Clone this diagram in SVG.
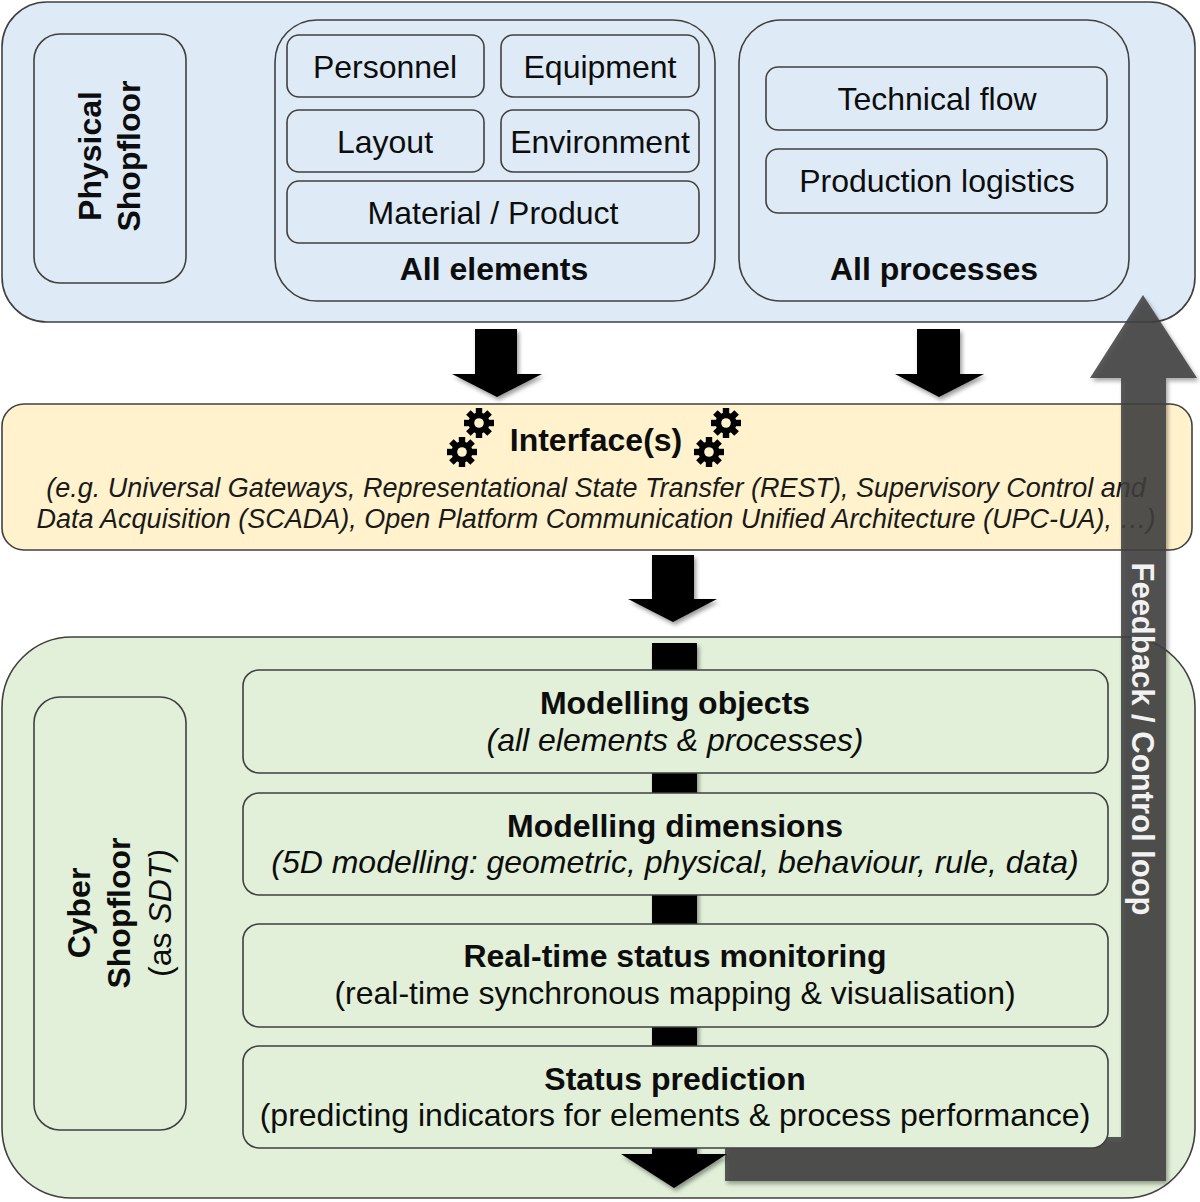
<svg xmlns="http://www.w3.org/2000/svg" xmlns:xlink="http://www.w3.org/1999/xlink" width="1200" height="1202" viewBox="0 0 1200 1202">
<style>
.box{stroke:#404040;stroke-width:1.6}
.blue{fill:#deebf7}
.yel{fill:#fff2cc}
.grn{fill:#e2f0d9}
.t{font-family:"Liberation Sans",Arial,sans-serif;font-size:32px;fill:#0d0d0d;text-anchor:middle}
.b{font-weight:bold}
.i{font-style:italic}
.it{font-family:"Liberation Sans",Arial,sans-serif;font-size:27px;font-style:italic;fill:#1a1a1a;text-anchor:middle}
.fb{font-family:"Liberation Sans",Arial,sans-serif;font-size:31px;font-weight:bold;fill:#f2f2f2;text-anchor:middle}
.blk{fill:#000}
</style>
<defs>
<filter id="sh" x="-20%" y="-20%" width="150%" height="150%">
<feDropShadow dx="2" dy="3" stdDeviation="2" flood-color="#000" flood-opacity="0.4"/>
</filter>
<g id="gear">
<circle r="10.5" fill="#000"/>
<rect x="-3.2" y="-15" width="6.4" height="7" fill="#000"/>
<rect x="-3.2" y="-15" width="6.4" height="7" fill="#000" transform="rotate(45)"/>
<rect x="-3.2" y="-15" width="6.4" height="7" fill="#000" transform="rotate(90)"/>
<rect x="-3.2" y="-15" width="6.4" height="7" fill="#000" transform="rotate(135)"/>
<rect x="-3.2" y="-15" width="6.4" height="7" fill="#000" transform="rotate(180)"/>
<rect x="-3.2" y="-15" width="6.4" height="7" fill="#000" transform="rotate(225)"/>
<rect x="-3.2" y="-15" width="6.4" height="7" fill="#000" transform="rotate(270)"/>
<rect x="-3.2" y="-15" width="6.4" height="7" fill="#000" transform="rotate(315)"/>
<circle r="4.8" fill="#fff2cc"/>
</g>
</defs>

<g id="physical-shopfloor">
<rect class="box blue" x="2" y="2" width="1193" height="320" rx="45"/>
<rect class="box blue" x="34" y="34" width="152" height="249" rx="26"/>
<text class="t b" transform="translate(101,156) rotate(-90)">Physical</text>
<text class="t b" transform="translate(140,156) rotate(-90)">Shopfloor</text>
</g>

<g id="all-elements">
<rect class="box blue" x="275" y="20" width="440" height="281" rx="42"/>
<text class="t b" x="494" y="280">All elements</text>
</g>
<g id="personnel">
<rect class="box blue" x="287" y="35" width="197" height="62" rx="12"/>
<text class="t" x="385" y="78">Personnel</text>
</g>
<g id="equipment">
<rect class="box blue" x="501" y="35" width="198" height="62" rx="12"/>
<text class="t" x="600" y="78">Equipment</text>
</g>
<g id="layout">
<rect class="box blue" x="287" y="110" width="197" height="62" rx="12"/>
<text class="t" x="385" y="153">Layout</text>
</g>
<g id="environment">
<rect class="box blue" x="501" y="110" width="198" height="62" rx="12"/>
<text class="t" x="600" y="153">Environment</text>
</g>
<g id="material-product">
<rect class="box blue" x="287" y="181" width="412" height="62" rx="12"/>
<text class="t" x="493" y="224">Material / Product</text>
</g>

<g id="all-processes">
<rect class="box blue" x="739" y="20" width="390" height="281" rx="42"/>
<text class="t b" x="934" y="280">All processes</text>
</g>
<g id="technical-flow">
<rect class="box blue" x="766" y="67" width="341" height="63" rx="12"/>
<text class="t" x="937" y="110">Technical flow</text>
</g>
<g id="production-logistics">
<rect class="box blue" x="766" y="149" width="341" height="64" rx="12"/>
<text class="t" x="937" y="192">Production logistics</text>
</g>

<g id="interfaces">
<rect class="box yel" x="2" y="404" width="1190" height="146" rx="22"/>
<use xlink:href="#gear" href="#gear" x="479" y="423"/>
<use xlink:href="#gear" href="#gear" x="462" y="452"/>
<use xlink:href="#gear" href="#gear" x="726" y="423"/>
<use xlink:href="#gear" href="#gear" x="709" y="452"/>
<text class="t b" x="596" y="451">Interface(s)</text>
<text class="it" x="596" y="497">(e.g. Universal Gateways, Representational State Transfer (REST), Supervisory Control and</text>
<text class="it" x="596" y="528">Data Acquisition (SCADA), Open Platform Communication Unified Architecture (UPC-UA), …)</text>
</g>

<g id="cyber-shopfloor">
<rect class="box grn" x="2" y="637" width="1193" height="561" rx="70"/>
<rect class="box grn" x="34" y="697" width="152" height="433" rx="26"/>
<text class="t b" transform="translate(90,913) rotate(-90)">Cyber</text>
<text class="t b" transform="translate(130,913) rotate(-90)">Shopfloor</text>
<text class="t" transform="translate(171,913) rotate(-90)">(as <tspan class="i">SDT)</tspan></text>
</g>

<g id="connectors">
<g filter="url(#sh)">
<path class="blk" d="M475,329 H517 V374 H542 L497,397 L452,374 H475 Z"/>
<path class="blk" d="M917,329 H960 V374 H984 L939,397 L895,374 H917 Z"/>
<path class="blk" d="M652,555 H694 V599 H717 L673,622 L628,599 H652 Z"/>
</g>
<g id="feedback-loop">
<path d="M1143,295 L1197,378 L1166,378 L1166,1181 L725,1181 L725,1137 L1121,1137 L1121,378 L1090,378 Z" fill="#404040" fill-opacity="0.86" filter="url(#sh)"/>
<text class="fb" transform="translate(1132,739) rotate(90)">Feedback / Control loop</text>
</g>
<path class="blk" filter="url(#sh)" d="M652,643 H697 V1154 H727 L674,1188 L621,1154 H652 Z"/>
</g>

<g id="modelling-objects">
<rect class="box grn" x="243" y="670" width="865" height="103" rx="16"/>
<text class="t b" x="675" y="714">Modelling objects</text>
<text class="t i" x="675" y="751">(all elements &amp; processes)</text>
</g>
<g id="modelling-dimensions">
<rect class="box grn" x="243" y="793" width="865" height="102" rx="16"/>
<text class="t b" x="675" y="837">Modelling dimensions</text>
<text class="t i" x="675" y="873">(5D modelling: geometric, physical, behaviour, rule, data)</text>
</g>
<g id="real-time-monitoring">
<rect class="box grn" x="243" y="924" width="865" height="103" rx="16"/>
<text class="t b" x="675" y="967">Real-time status monitoring</text>
<text class="t" x="675" y="1004">(real-time synchronous mapping &amp; visualisation)</text>
</g>
<g id="status-prediction">
<rect class="box grn" x="243" y="1046" width="865" height="102" rx="16"/>
<text class="t b" x="675" y="1090">Status prediction</text>
<text class="t" x="675" y="1126">(predicting indicators for elements &amp; process performance)</text>
</g>
</svg>
